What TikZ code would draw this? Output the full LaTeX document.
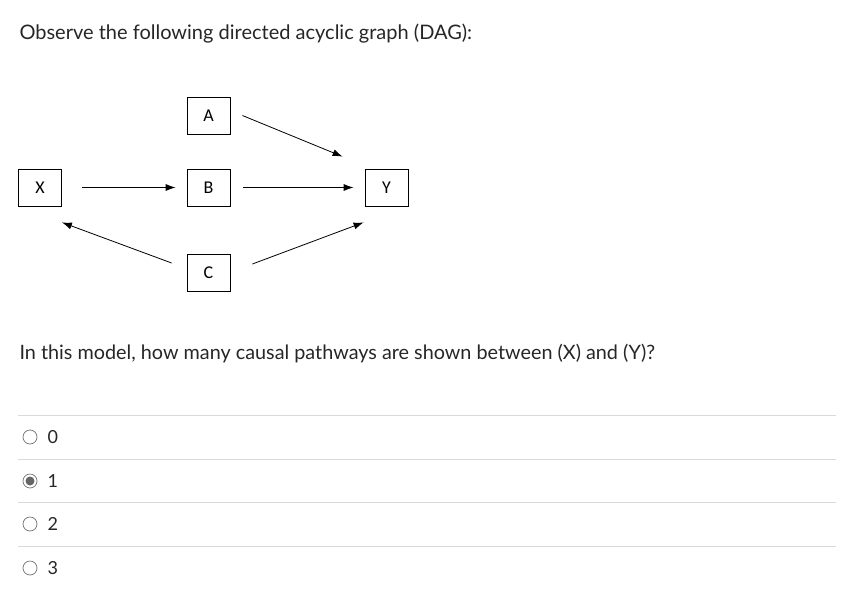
\documentclass[tikz,border=0pt]{standalone}
\usepackage{fontspec}
\usetikzlibrary{arrows.meta}
\setmainfont{Lato}
\newfontfamily\boxfont{Carlito}
\begin{document}
\begin{tikzpicture}[x=1pt,y=-1pt,
  vbox/.style={draw,line width=0.8pt,minimum width=43pt,minimum height=37pt,inner sep=0pt,font=\boxfont\fontsize{18}{18}\selectfont},
  arr/.style={-{Latex[length=10pt,width=7pt]},line width=0.8pt},
  sep/.style={draw=black!15,line width=0.8pt},
  radio/.style={circle,draw=black!55,line width=0.7pt,minimum size=14pt,inner sep=0pt},
  opt/.style={anchor=west,font=\fontsize{18}{18}\selectfont,text=black!85}]
\useasboundingbox (0,0) rectangle (851,605);
\node[anchor=west,font=\fontsize{20}{20}\selectfont,text=black!85] (title) at (16,34) {Observe the following directed acyclic graph (DAG):};
\node[vbox] (A) at (208.5,115.5) {A};
\node[vbox] (X) at (40,187.5) {X};
\node[vbox] (B) at (208.5,187.5) {B};
\node[vbox] (Y) at (386.5,187.5) {Y};
\node[vbox] (C) at (208.5,272.5) {C};
\draw[arr] ([shift={(20,0)}]X.east) -- ([shift={(-11,0)}]B.west);
\draw[arr] ([shift={(13,0)}]B.east) -- ([shift={(-11,0)}]Y.west);
\draw[arr] ([shift={(12,0)}]A.east) -- ([shift={(-22,-12)}]Y.north west);
\draw[arr] ([shift={(-15,-9.5)}]C.west) -- ([shift={(0,16)}]X.south east);
\draw[arr] ([shift={(22,-8.5)}]C.east) -- ([shift={(-1,16)}]Y.south west);
\node[anchor=west,font=\fontsize{19.8}{19.8}\selectfont,text=black!85] (q) at (16,354) {In this model, how many causal pathways are shown between (X) and (Y)?};
\foreach \yy in {415,459,502,546} \draw[sep] (18,\yy) -- (836,\yy);
\node[radio] (r0) at (30,437) {};
\node[radio] (r1) at (30,481) {};
\node[radio] (r2) at (30,524) {};
\node[radio] (r3) at (30,568) {};
\fill[black!60] (r1.center) circle (4.5pt);
\node[opt] (o0) at (44,437) {0};
\node[opt] (o1) at (44,481) {1};
\node[opt] (o2) at (44,524) {2};
\node[opt] (o3) at (44,568) {3};
\end{tikzpicture}
\end{document}
